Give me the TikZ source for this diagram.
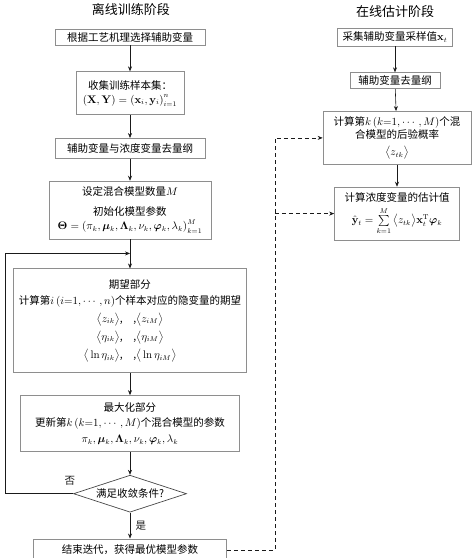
\documentclass[tikz,border=0pt]{standalone}
\usepackage{amsmath,bm}
\usepackage[no-math]{fontspec}
\setmainfont{Noto Sans CJK SC}
\usepackage{xcolor}
\usetikzlibrary{arrows.meta,positioning,shapes.geometric}
\definecolor{stepline}{HTML}{8E8E8E}
\definecolor{flowink}{HTML}{1A1A1A}

\begin{document}
\begin{tikzpicture}[x=1pt,y=1pt,
  box/.style={draw=stepline,fill=white,line width=0.7pt,align=center,
              inner sep=2pt,font=\fontsize{10.5}{13}\selectfont},
  decide/.style={diamond,draw=flowink!80,line width=0.7pt,aspect=3,inner sep=0pt,
                 minimum width=113pt,minimum height=37pt,font=\fontsize{10.5}{13}\selectfont},
  phase/.style={font=\fontsize{13}{15}\selectfont},
  arr/.style={-{Stealth[length=5pt,width=4pt]},line width=0.6pt,color=flowink},
  dasharr/.style={-{Stealth[length=5pt,width=4pt]},line width=0.6pt,color=flowink,
                  dash pattern=on 4pt off 3pt},
  lbl/.style={font=\fontsize{10.5}{13}\selectfont}
]
\useasboundingbox (0,0) rectangle (474,558);

\node[phase] (offT) at (131,548) {离线训练阶段};
\node[phase] (onT) at (395,546) {在线估计阶段};

\node[box,minimum width=150pt,minimum height=16pt] (aux) at (130,521) {根据工艺机理选择辅助变量};
\node[box,minimum width=108pt,minimum height=43pt,below=26pt of aux] (sam)
  {收集训练样本集：\\[1pt] $\left(\mathbf X,\mathbf Y\right)=\left(\mathbf x_i,\mathbf y_i\right)_{i=1}^{n}$};
\node[box,minimum width=150pt,minimum height=20pt,below=23pt of sam] (nrm) {辅助变量与浓度变量去量纲};
\node[box,minimum width=162pt,minimum height=58pt,below=22pt of nrm] (ini)
  {设定混合模型数量$M$\\[7pt] 初始化模型参数\\[1pt]
   $\bm\Theta=\left(\pi_k,\bm\mu_k,\bm\Lambda_k,\nu_k,\bm\varphi_k,\lambda_k\right)_{k=1}^{M}$};
\node[box,minimum width=233pt,minimum height=104pt,below=29pt of ini] (est)
  {期望部分\\[3pt]
   计算第$i\,(i{=}1,\cdots,n)$个样本对应的隐变量的期望\\[5pt]
   $\big\langle z_{ik}\big\rangle$,\quad ,$\big\langle z_{iM}\big\rangle$\\[4pt]
   $\big\langle \eta_{ik}\big\rangle$,\quad ,$\big\langle \eta_{iM}\big\rangle$\\[4pt]
   $\big\langle \ln\eta_{ik}\big\rangle$,\quad ,$\big\langle \ln\eta_{iM}\big\rangle$};
\node[box,minimum width=219pt,minimum height=56pt,below=22pt of est] (maxi)
  {最大化部分\\[2pt]
   更新第$k\,(k{=}1,\cdots,M)$个混合模型的参数\\[3pt]
   $\pi_k,\bm\mu_k,\bm\Lambda_k,\nu_k,\bm\varphi_k,\lambda_k$};
\node[decide,below=23pt of maxi] (conv) {满足收敛条件?};
\node[box,minimum width=193pt,minimum height=22pt,below=26pt of conv] (fin) {结束迭代，获得最优模型参数};

\node[box,minimum width=115pt,minimum height=18pt] (smp) at (395,521) {采集辅助变量采样值$\mathbf x_t$};
\node[box,minimum width=90pt,minimum height=16pt,below=26pt of smp] (onn) {辅助变量去量纲};
\node[box,minimum width=148pt,minimum height=53pt,below=22pt of onn,xshift=2pt] (post)
  {计算第$k\,(k{=}1,\cdots,M)$个混\\合模型的后验概率\\[4pt] $\big\langle z_{tk}\big\rangle$};
\node[box,minimum width=125pt,minimum height=53pt,below=22pt of post] (pred)
  {计算浓度变量的估计值\\[4pt]
   $\hat{\mathbf y}_t=\sum\limits_{k=1}^{M}\big\langle z_{tk}\big\rangle\mathbf x_t^{\mathrm T}\bm\varphi_k$};

\draw[arr] (aux) -- (sam);
\draw[arr] (sam) -- (nrm);
\draw[arr] (nrm) -- (ini);
\draw[arr] (ini) -- (est);
\draw[arr] (est) -- (maxi);
\draw[arr] (maxi) -- (conv);
\draw[arr] (conv) -- node[lbl,right=2pt] {是} (fin);
\coordinate (loopIn) at ([yshift=-14pt]ini.south);
\coordinate (loopOut) at ([xshift=-68pt]conv.west);
\draw[arr] (conv.west) -- node[lbl,above=5pt,pos=0.05] {否} (loopOut) |- (loopIn);

\draw[arr] (smp) -- (onn);
\draw[arr] (onn) -- (post);
\draw[arr] (post) -- (pred);

\coordinate (dashTurn) at ([xshift=48pt]fin.east);
\draw[dasharr] (fin.east) -- (dashTurn) |- (post.west);
\draw[dasharr] (dashTurn |- pred.west) -- (pred.west);
\end{tikzpicture}
\end{document}
